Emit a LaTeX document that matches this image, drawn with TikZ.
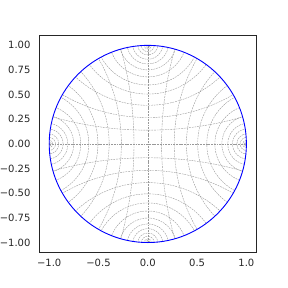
\documentclass[tikz,border=0pt]{standalone}
\usepackage{fontspec}
\setmainfont{DejaVu Sans}
\usetikzlibrary{calc}
\definecolor{axisgray}{HTML}{262626}

\begin{document}
\begin{tikzpicture}[
  x=98.6pt,y=98.6pt,
  font=\fontsize{10}{12}\selectfont,
  geod/.style={draw=black!40,line width=0.4pt,dash pattern=on 1.8pt off 0.9pt},
  rim/.style={draw=blue,line width=0.9pt},
  spine/.style={draw=axisgray,line width=1pt},
  ticklab/.style={text=axisgray,inner sep=0pt}
]
\useasboundingbox (-1.499,-1.460) rectangle (1.422,1.460);
% geodesics orthogonal to the rim
\begin{scope}
  \clip (0,0) circle (1);
  \draw[geod] (-1,0) -- (1,0);
  \draw[geod] (0,-1) -- (0,1);
  \foreach \p in {0.140,0.268,0.392,0.506,0.598,0.680,0.751,0.811,0.859,0.903,0.936,0.963,0.978,0.988,0.994}{
    \pgfmathsetmacro{\cx}{(1+\p*\p)/(2*\p)}
    \pgfmathsetmacro{\rad}{(1-\p*\p)/(2*\p)}
    \draw[geod] (\cx,0) circle (\rad);
    \draw[geod] (-\cx,0) circle (\rad);
    \draw[geod] (0,\cx) circle (\rad);
    \draw[geod] (0,-\cx) circle (\rad);
  }
\end{scope}
% unit circle
\draw[rim] (0,0) circle (1);
% axes frame
\draw[spine] (-1.1,-1.1) rectangle (1.1,1.1);
% tick labels
\foreach \v/\t [count=\i] in {-1/−1.0,-0.5/−0.5,0/0.0,0.5/0.5,1/1.0}{
  \node[ticklab,anchor=north] (xl\i) at (\v,-1.17) {\t};
}
\foreach \v/\t [count=\i] in {-1/−1.00,-0.75/−0.75,-0.5/−0.50,-0.25/−0.25,0/0.00,0.25/0.25,0.5/0.50,0.75/0.75,1/1.00}{
  \node[ticklab,anchor=east] (yl\i) at (-1.188,\v) {\t};
}
\end{tikzpicture}
\end{document}
